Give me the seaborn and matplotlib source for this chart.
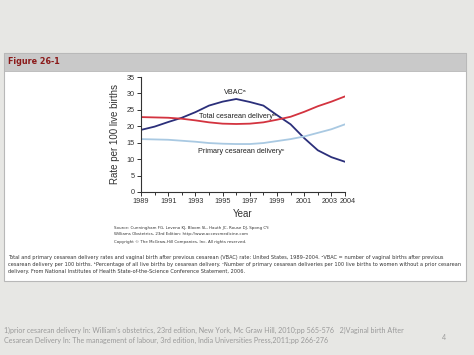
import matplotlib
matplotlib.use("Agg")
import matplotlib.pyplot as plt
import matplotlib.transforms as mtransforms
import seaborn as sns
import pandas as pd
from matplotlib.patches import Rectangle

years = list(range(1989, 2005))
vbac = [18.9, 19.9, 21.3, 22.6, 24.3, 26.3, 27.5, 28.3, 27.4, 26.3, 23.4, 20.6, 16.4, 12.7, 10.6, 9.2]
total_cs = [22.8, 22.7, 22.6, 22.3, 21.8, 21.2, 20.8, 20.7, 20.8, 21.2, 22.0, 22.9, 24.4, 26.1, 27.5, 29.1]
primary_cs = [16.1, 16.0, 15.9, 15.6, 15.3, 14.9, 14.7, 14.6, 14.6, 14.9, 15.5, 16.1, 16.9, 18.0, 19.1, 20.6]
xtick_labels = [1989, 1991, 1993, 1995, 1997, 1999, 2001, 2003, 2004]
yticks = [0, 5, 10, 15, 20, 25, 30, 35]

df = pd.DataFrame({
    "Year": years * 3,
    "Rate": vbac + total_cs + primary_cs,
    "Series": ["VBAC"] * 16 + ["Total"] * 16 + ["Primary"] * 16,
})
palette = {"VBAC": "#2b2f7a", "Total": "#d3333f", "Primary": "#a9c9e2"}

sns.set_style("white")
plt.rcParams["font.family"] = ["Liberation Sans", "DejaVu Sans"]
narrow = ["Liberation Sans Narrow", "DejaVu Sans Condensed", "Liberation Sans"]

fig = plt.figure(figsize=(4.74, 3.55), dpi=100)
fig.patch.set_facecolor("#e7e7e4")

W, H = 474.0, 355.0
def fx(x): return x / W
def fy(y): return 1 - y / H

# white panel
fig.patches.append(Rectangle((fx(4), fy(281)), fx(466) - fx(4), fy(53) - fy(281),
                             transform=fig.transFigure, facecolor="white",
                             edgecolor="#b8b8b8", lw=0.8, zorder=-3))
# header bar
fig.patches.append(Rectangle((fx(4), fy(71)), fx(466) - fx(4), fy(53) - fy(71),
                             transform=fig.transFigure, facecolor="#c9c9c9",
                             edgecolor="#b8b8b8", lw=0.6, zorder=-2))
fig.text(fx(8), fy(61), "Figure 26-1", color="#8b1a1a", fontsize=5.8,
         fontweight="bold", family=["DejaVu Sans"], va="center")

ax = fig.add_axes([fx(141), fy(192), fx(345) - fx(141), fy(77) - fy(192)])
ax.set_facecolor("white")
sns.lineplot(data=df, x="Year", y="Rate", hue="Series", palette=palette,
             linewidth=1.3, legend=False, ax=ax)
ax.set_xlim(1989, 2004)
ax.set_ylim(0, 35)
ax.set_xticks(xtick_labels)
ax.set_xticklabels([str(v) for v in xtick_labels])
ax.set_xticks(years, minor=True)
ax.set_yticks(yticks)
for s in ["top", "right"]:
    ax.spines[s].set_visible(False)
for s in ["left", "bottom"]:
    ax.spines[s].set_color("#333333")
    ax.spines[s].set_linewidth(0.8)
ax.tick_params(axis="both", which="both", direction="out", length=3, width=0.7,
               labelsize=5.2, colors="#333333", pad=1.5)
ax.tick_params(axis="both", which="major", bottom=True, left=True)
ax.tick_params(axis="x", which="minor", bottom=True, length=2.5)
for lab in ax.get_xticklabels() + ax.get_yticklabels():
    lab.set_family(narrow)
xl = ax.get_xticklabels()
xl[-2].set_transform(xl[-2].get_transform() + mtransforms.ScaledTranslation(-1.5 / 100, 0, fig.dpi_scale_trans))
xl[-1].set_transform(xl[-1].get_transform() + mtransforms.ScaledTranslation(3 / 100, 0, fig.dpi_scale_trans))
ax.set_xlabel("Year", fontsize=7, color="#333333", labelpad=3)
ax.set_ylabel("Rate per 100 live births", fontsize=7, color="#333333", labelpad=5)

ax.text(1995.9, 29.3, "VBAC\u1d43", fontsize=5.2, color="#222222", ha="center", va="bottom")
ax.text(1996.1, 23.0, "Total cesarean delivery\u1d47", fontsize=5.2, color="#222222", ha="center", va="center")
ax.text(1996.4, 12.4, "Primary cesarean delivery\u1d9c", fontsize=5.2, color="#222222", ha="center", va="center")

cap_fam = ["DejaVu Sans"]
fig.text(fx(114), fy(228), "Source: Cunningham FG, Leveno KJ, Bloom SL, Hauth JC, Rouse DJ, Spong CY:",
         fontsize=2.9, family=cap_fam, color="#333333", va="center")
fig.text(fx(114), fy(233.5), "Williams Obstetrics, 23rd Edition: http://www.accessmedicine.com",
         fontsize=2.9, family=cap_fam, color="#333333", va="center")
fig.text(fx(114), fy(242), "Copyright \u00a9 The McGraw-Hill Companies, Inc. All rights reserved.",
         fontsize=2.9, family=cap_fam, color="#333333", va="center")

cap = [
    "Total and primary cesarean delivery rates and vaginal birth after previous cesarean (VBAC) rate: United States, 1989\u20132004. \u1d43VBAC = number of vaginal births after previous",
    "cesarean delivery per 100 births. \u1d47Percentage of all live births by cesarean delivery. \u1d9cNumber of primary cesarean deliveries per 100 live births to women without a prior cesarean",
    "delivery. From National Institutes of Health State-of-the-Science Conference Statement, 2006.",
]
for i, line in enumerate(cap):
    fig.text(fx(8), fy(258 + 6.5 * i), line, fontsize=3.65, family=cap_fam,
             color="#333333", va="center")

foot_fam = ["Lato", "DejaVu Sans"]
fig.text(fx(4), fy(330), "1)prior cesarean delivery In: William's obstetrics, 23rd edition, New York, Mc Graw Hill, 2010;pp 565-576   2)Vaginal birth After",
         fontsize=5.1, family=foot_fam, color="#9a9a9a", va="center")
fig.text(fx(4), fy(340), "Cesarean Delivery In: The management of labour, 3rd edition, India Universities Press,2011;pp 266-276",
         fontsize=5.1, family=foot_fam, color="#9a9a9a", va="center")
fig.text(fx(442), fy(337), "4", fontsize=5.1, family=foot_fam, color="#9a9a9a", va="center")

fig.savefig("out.png", dpi=100, facecolor=fig.get_facecolor())
